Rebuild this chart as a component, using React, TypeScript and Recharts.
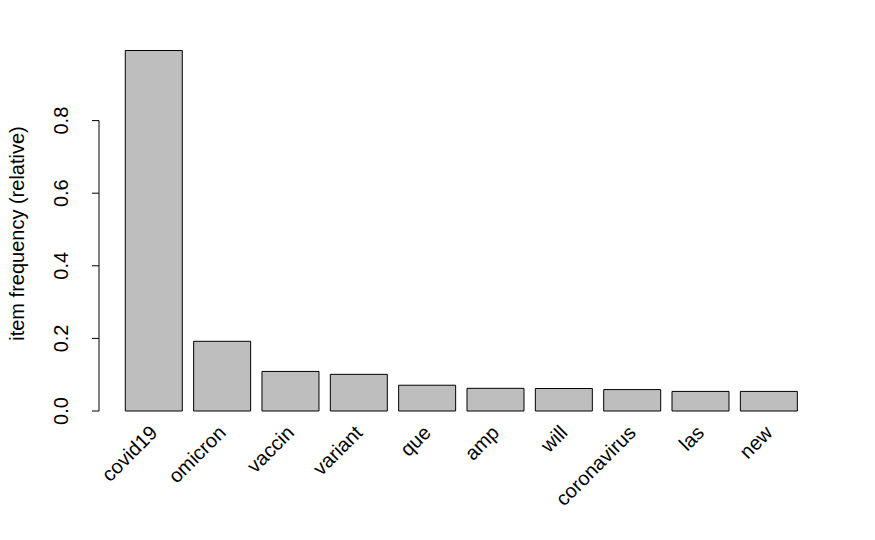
import { BarChart, Bar, XAxis, YAxis, ReferenceLine, Label } from 'recharts';

const items = ['covid19', 'omicron', 'vaccin', 'variant', 'que', 'amp', 'will', 'coronavirus', 'las', 'new'];
const support = [0.993, 0.192, 0.109, 0.101, 0.071, 0.0625, 0.062, 0.059, 0.054, 0.054];
const yTicks = [0, 0.2, 0.4, 0.6, 0.8];

const data = items.map((item, i) => ({ item, value: support[i] }));

const font = '"Liberation Sans", Arial, sans-serif';
const fontSize = 20;

const ItemTick = ({ x, y, payload }: any) => {
  const ty = y + 18;
  return (
    <text
      x={x}
      y={ty}
      transform={`rotate(-45, ${x}, ${ty})`}
      textAnchor="end"
      dominantBaseline="central"
      fontFamily={font}
      fontSize={fontSize}
      fill="#000"
    >
      {payload.value}
    </text>
  );
};

const FreqTick = ({ y, payload }: any) => {
  const tx = 68;
  return (
    <text
      x={tx}
      y={y}
      transform={`rotate(-90, ${tx}, ${y})`}
      textAnchor="middle"
      fontFamily={font}
      fontSize={fontSize}
      fill="#000"
    >
      {payload.value.toFixed(1)}
    </text>
  );
};

const renderTitle = ({ viewBox }: any) => {
  const cx = 24;
  const cy = viewBox.y + viewBox.height / 2 + 4;
  return (
    <text
      x={cx}
      y={cy}
      transform={`rotate(-90, ${cx}, ${cy})`}
      textAnchor="middle"
      fontFamily={font}
      fontSize={fontSize}
      fill="#000"
    >
      item frequency (relative)
    </text>
  );
};

export default function App() {
  return (
    <div style={{ position: 'absolute', left: 0, top: 0, background: '#fff' }}>
      <BarChart
        width={875}
        height={540}
        data={data}
        margin={{ top: 48, right: 72, bottom: 0, left: 39 }}
        barCategoryGap="8.33%"
      >
        <XAxis
          dataKey="item"
          interval={0}
          height={129}
          axisLine={false}
          tickLine={false}
          tickSize={0}
          tickMargin={0}
          padding={{ left: 20.6, right: 0 }}
          tick={<ItemTick />}
        />
        <XAxis xAxisId="frame" type="number" domain={[0, 1]} hide />
        <YAxis
          width={60}
          domain={[0, 1]}
          ticks={yTicks}
          axisLine={false}
          tickLine={{ stroke: '#000', strokeWidth: 1 }}
          tickSize={7}
          tick={<FreqTick />}
        >
          <Label content={renderTitle} />
        </YAxis>
        <ReferenceLine
          xAxisId="frame"
          segment={[
            { x: 0, y: 0 },
            { x: 0, y: 0.8 },
          ]}
          stroke="#000"
          strokeWidth={1}
        />
        <Bar dataKey="value" fill="#bebebe" stroke="#000" strokeWidth={1} isAnimationActive={false} />
      </BarChart>
    </div>
  );
}
